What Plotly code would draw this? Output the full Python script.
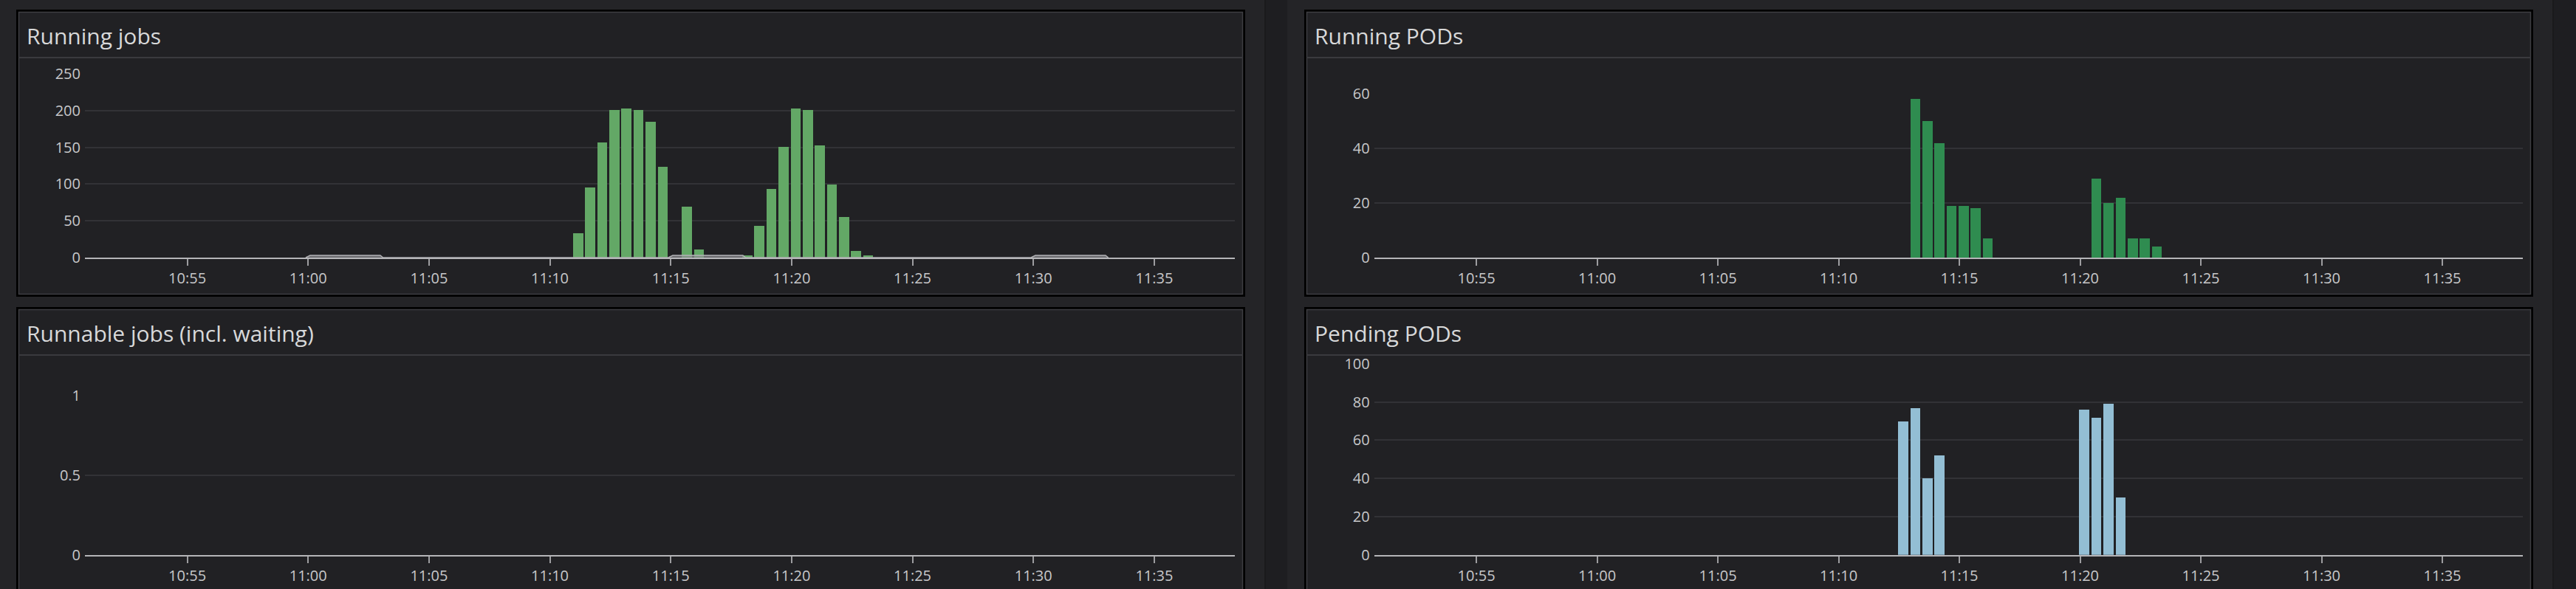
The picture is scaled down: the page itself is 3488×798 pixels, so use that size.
import plotly.graph_objects as go

W, H = 3488, 798
DAY = "2020-01-01 "

# ---------------- data ----------------
# Running jobs (30 s buckets)
running_jobs_times = ["11:11:10", "11:11:40", "11:12:10", "11:12:40", "11:13:10", "11:13:40",
                      "11:14:10", "11:14:40", "11:15:10", "11:15:40", "11:16:10", "11:16:40",
                      "11:17:10", "11:17:40", "11:18:10", "11:18:40", "11:19:10", "11:19:40",
                      "11:20:10", "11:20:40", "11:21:10", "11:21:40", "11:22:10", "11:22:40",
                      "11:23:10"]
running_jobs_values = [33, 95, 157, 201, 203, 201, 185, 124, 0, 69, 11, 0,
                       0, 0, 3, 43, 93, 151, 203, 201, 153, 99, 55, 9, 3]

# small grey series in the Running jobs panel
queued_times = ["10:59:54", "11:00:05", "11:02:59", "11:03:06",
                "11:14:54", "11:15:05", "11:17:59", "11:18:06",
                "11:29:54", "11:30:05", "11:32:59", "11:33:06"]
queued_values = [0, 3, 3, 0, 0, 3, 3, 0, 0, 3, 3, 0]

# Runnable jobs (incl. waiting): no non-zero values
runnable_times = []
runnable_values = []

# Running PODs
running_pods_times = ["11:13:10", "11:13:40", "11:14:10", "11:14:40", "11:15:10", "11:15:40",
                      "11:16:10", "11:20:40", "11:21:10", "11:21:40", "11:22:10", "11:22:40",
                      "11:23:10"]
running_pods_values = [58, 50, 42, 19, 19, 18, 7, 29, 20, 22, 7, 7, 4]

# Pending PODs
pending_pods_times = ["11:12:40", "11:13:10", "11:13:40", "11:14:10",
                      "11:20:10", "11:20:40", "11:21:10", "11:21:40"]
pending_pods_values = [70, 77, 40, 52, 76, 72, 79, 30]

titles = ["Running jobs", "Runnable jobs (incl. waiting)", "Running PODs", "Pending PODs"]
x_tick_labels_format = "%H:%M"
time_start, time_end = "10:50:46", "11:38:20"

# ---------------- style ----------------
PAGE_BG = "#242427"
PANEL_BG = "#212124"
GRID = "#323236"
TEXT = "#c8c8ca"
TITLE = "#d8d9da"
FONT = "Open Sans"

def ts(lst):
    return [DAY + t for t in lst]

def px_x(v):
    return v / W

def px_y(v):
    return 1 - v / H

fig = go.Figure()

BARW = 25000  # ms

fig.add_trace(go.Bar(x=ts(running_jobs_times), y=running_jobs_values, width=BARW,
                     marker=dict(color="#63a866", line=dict(width=0)),
                     xaxis="x", yaxis="y", showlegend=False))
fig.add_trace(go.Scatter(x=ts(queued_times), y=queued_values, mode="lines",
                         line=dict(color="#b3b3b6", width=1.5),
                         fill="tozeroy", fillcolor="rgba(140,140,144,0.7)",
                         xaxis="x", yaxis="y", showlegend=False))
fig.add_trace(go.Bar(x=ts(running_pods_times), y=running_pods_values, width=BARW,
                     marker=dict(color="#2f8c50", line=dict(width=0)),
                     xaxis="x2", yaxis="y2", showlegend=False))
fig.add_trace(go.Bar(x=ts(runnable_times), y=runnable_values, width=BARW,
                     marker=dict(color="#63a866"),
                     xaxis="x3", yaxis="y3", showlegend=False))
fig.add_trace(go.Bar(x=ts(pending_pods_times), y=pending_pods_values, width=BARW,
                     marker=dict(color="#93bed4", line=dict(width=0)),
                     xaxis="x4", yaxis="y4", showlegend=False))

# panel geometry (pixels)
LEFT_COL = (22, 1686)
RIGHT_COL = (1766, 3430)
TOP_ROW = (13, 402)
BOT_ROW = (416, 812)
HEADER_H = 65

shapes = []
# column gutters
for x0, x1 in [(1712, 1743), (3456, 3488)]:
    shapes.append(dict(type="rect", xref="paper", yref="paper", layer="below",
                       x0=px_x(x0), x1=px_x(x1), y0=0, y1=1,
                       fillcolor="#1e1e21", line=dict(width=0)))
    shapes.append(dict(type="line", xref="paper", yref="paper", layer="below",
                       x0=px_x(x0 + 1), x1=px_x(x0 + 1), y0=0, y1=1,
                       line=dict(color="#1a1a1c", width=2)))

for (cx0, cx1) in [LEFT_COL, RIGHT_COL]:
    for (ry0, ry1) in [TOP_ROW, BOT_ROW]:
        shapes.append(dict(type="rect", xref="paper", yref="paper", layer="below",
                           x0=px_x(cx0 + 1.5), x1=px_x(cx1 - 1.5),
                           y0=px_y(ry1 - 1.5), y1=px_y(ry0 + 1.5),
                           fillcolor=PANEL_BG, line=dict(color="#000000", width=3)))
        shapes.append(dict(type="rect", xref="paper", yref="paper", layer="below",
                           x0=px_x(cx0 + 3.5), x1=px_x(cx1 - 3.5),
                           y0=px_y(ry1 - 3.5), y1=px_y(ry0 + 3.5),
                           fillcolor="rgba(0,0,0,0)", line=dict(color="#3e3e42", width=1.5)))
        shapes.append(dict(type="line", xref="paper", yref="paper", layer="below",
                           x0=px_x(cx0 + 3), x1=px_x(cx1 - 3),
                           y0=px_y(ry0 + HEADER_H), y1=px_y(ry0 + HEADER_H),
                           line=dict(color="#3a3a3e", width=2)))

annotations = []
title_pos = [(LEFT_COL, TOP_ROW), (LEFT_COL, BOT_ROW), (RIGHT_COL, TOP_ROW), (RIGHT_COL, BOT_ROW)]
for t, ((cx0, cx1), (ry0, ry1)) in zip(titles, title_pos):
    annotations.append(dict(text=t, xref="paper", yref="paper",
                            x=px_x(cx0 + 12), y=px_y(ry0 + 35),
                            xanchor="left", yanchor="middle", showarrow=False,
                            font=dict(family=FONT, size=30, color=TITLE)))

xcommon = dict(type="date", range=[DAY + time_start, DAY + time_end],
               tick0=DAY + "10:55:00", dtick=300000, tickformat=x_tick_labels_format,
               ticks="outside", ticklen=9, tickwidth=2, tickcolor="#9d9da0",
               showline=True, linecolor="#b5b5b8", linewidth=2,
               showgrid=False, zeroline=False, automargin=False,
               tickfont=dict(family=FONT, size=20, color=TEXT), fixedrange=True)
ycommon = dict(showgrid=True, gridcolor=GRID, gridwidth=2, zeroline=False,
               showline=False, ticks="", ticklabelstandoff=5, automargin=False,
               tickfont=dict(family=FONT, size=20, color=TEXT), fixedrange=True)

LX = (115, 1672)
RX = (1860.7, 3416)

fig.update_layout(
    width=W, height=H,
    margin=dict(l=0, r=0, t=0, b=0),
    paper_bgcolor=PAGE_BG, plot_bgcolor="rgba(0,0,0,0)",
    font=dict(family=FONT, color=TEXT),
    showlegend=False, bargap=0,
    shapes=shapes, annotations=annotations,
    xaxis=dict(xcommon, domain=[px_x(LX[0]), px_x(LX[1])], anchor="y"),
    yaxis=dict(ycommon, domain=[px_y(349), px_y(100)], range=[0, 250],
               tickvals=[0, 50, 100, 150, 200, 250], anchor="x"),
    xaxis2=dict(xcommon, domain=[px_x(RX[0]), px_x(RX[1])], anchor="y2"),
    yaxis2=dict(ycommon, domain=[px_y(349), px_y(127)], range=[0, 60],
                tickvals=[0, 20, 40, 60], anchor="x2"),
    xaxis3=dict(xcommon, domain=[px_x(LX[0]), px_x(LX[1])], anchor="y3"),
    yaxis3=dict(ycommon, domain=[px_y(751.7), px_y(536)], range=[0, 1],
                tickvals=[0, 0.5, 1], anchor="x3"),
    xaxis4=dict(xcommon, domain=[px_x(RX[0]), px_x(RX[1])], anchor="y4"),
    yaxis4=dict(ycommon, domain=[px_y(751.7), px_y(492.7)], range=[0, 100],
                tickvals=[0, 20, 40, 60, 80, 100], anchor="x4"),
)

page_fix = ("document.body.style.margin='0';document.body.style.padding='0';"
            "document.body.style.background='%s';"
            "document.documentElement.style.background='%s';" % (PAGE_BG, PAGE_BG))
fig.write_html("out.html", post_script=page_fix,
               config={"displayModeBar": False, "staticPlot": False})
